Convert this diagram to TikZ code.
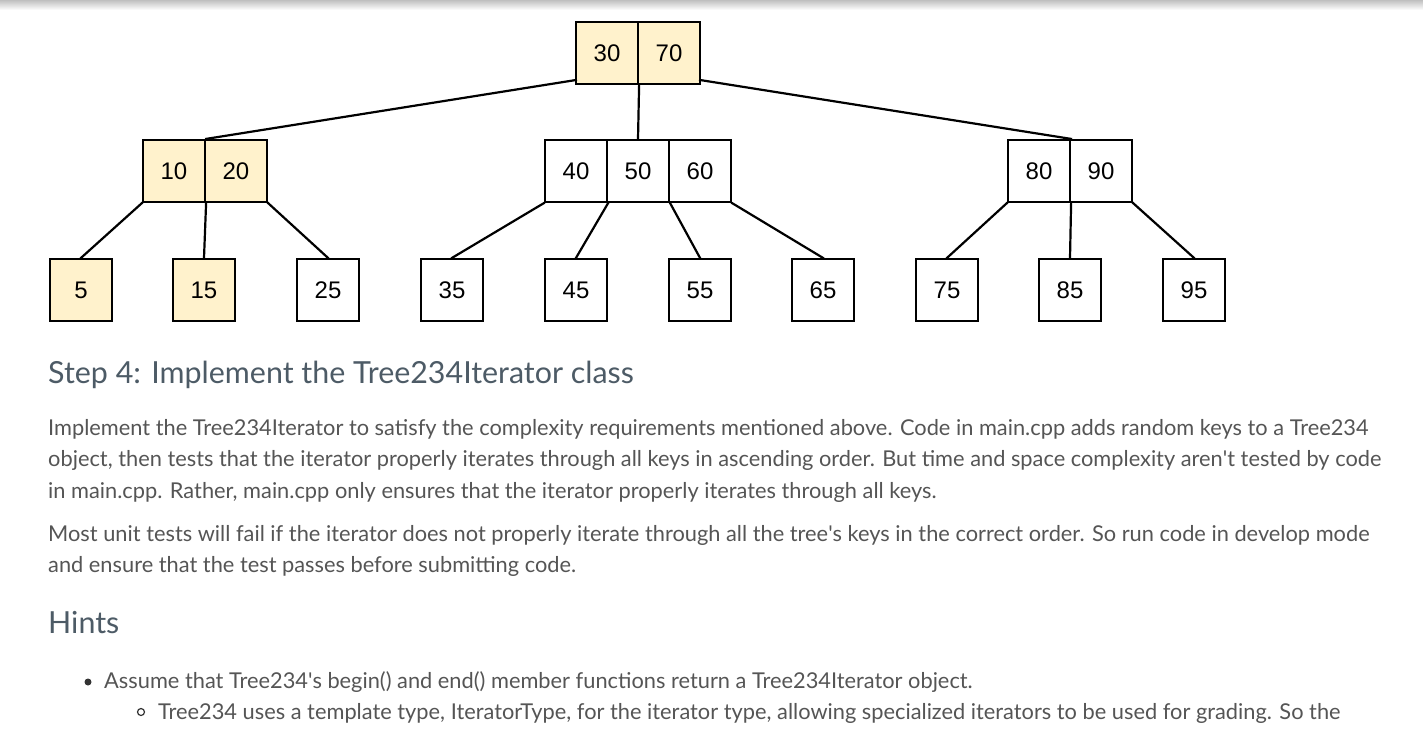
\documentclass[tikz,border=0pt]{standalone}
\usepackage{fontspec}
\setmainfont{Lato}
\newfontfamily\numfont{Liberation Sans}
\definecolor{keyfill}{HTML}{FFF2CC}
\definecolor{bodytxt}{HTML}{555555}
\definecolor{headtxt}{HTML}{4D5B66}
\begin{document}
\begin{tikzpicture}[x=1pt,y=-1pt,
  cell/.style={draw,line width=2.2pt,minimum width=62pt,minimum height=62pt,inner sep=0pt,font=\numfont\fontsize{24}{24}\selectfont},
  yel/.style={cell,fill=keyfill},
  wht/.style={cell,fill=white},
  edge/.style={line width=2.2pt,shorten <=-1pt,shorten >=-1pt},
  body/.style={anchor=base west,inner sep=0pt,text=bodytxt,font=\fontsize{21.8}{24}\selectfont},
  head/.style={anchor=base west,inner sep=0pt,text=headtxt,font=\fontsize{30.4}{32}\selectfont}]
\useasboundingbox (0,0) rectangle (1423,731);
\fill[white] (0,0) rectangle (1423,731);
\shade[top color=black!25,bottom color=white] (0,0) rectangle (1423,10);
% edges (behind boxes)
\coordinate (r1sw) at (576,80);
\coordinate (r2se) at (700,80);
% root
\node[yel] (r1) at (607,53) {30};
\node[yel] (r2) at (669,53) {70};
% level 1
\node[yel] (a1) at (174,171) {10};
\node[yel] (a2) at (236,171) {20};
\node[wht] (b1) at (576,171) {40};
\node[wht] (b2) at (638,171) {50};
\node[wht] (b3) at (700,171) {60};
\node[wht] (c1) at (1039,171) {80};
\node[wht] (c2) at (1101,171) {90};
% leaves
\node[yel] (l5) at (81,290) {5};
\node[yel] (l15) at (204,290) {15};
\node[wht] (l25) at (328,290) {25};
\node[wht] (l35) at (452,290) {35};
\node[wht] (l45) at (576,290) {45};
\node[wht] (l55) at (700,290) {55};
\node[wht] (l65) at (823,290) {65};
\node[wht] (l75) at (947,290) {75};
\node[wht] (l85) at (1070,290) {85};
\node[wht] (l95) at (1194,290) {95};
% edges
\draw[edge] (r1sw) -- (a1.north east);
\draw[edge] (r1.south east) -- (b2.north);
\draw[edge] (r2se) -- (c1.north east);
\draw[edge] (a1.south west) -- (l5.north);
\draw[edge] (a1.south east) -- (l15.north);
\draw[edge] (a2.south east) -- (l25.north);
\draw[edge] (b1.south west) -- (l35.north);
\draw[edge] (b1.south east) -- (l45.north);
\draw[edge] (b2.south east) -- (l55.north);
\draw[edge] (b3.south east) -- (l65.north);
\draw[edge] (c1.south west) -- (l75.north);
\draw[edge] (c1.south east) -- (l85.north);
\draw[edge] (c2.south east) -- (l95.north);
% text
\node[head] (h1) at (48,383) {Step 4: Implement the Tree234Iterator class};
\node[body] (p1) at (48,435) {Implement the Tree234Iterator to satisfy the complexity requirements mentioned above. Code in main.cpp adds random keys to a Tree234};
\node[body] (p2) at (48,466) {object, then tests that the iterator properly iterates through all keys in ascending order. But time and space complexity aren\textquotesingle t tested by code};
\node[body] (p3) at (48,498) {in main.cpp. Rather, main.cpp only ensures that the iterator properly iterates through all keys.};
\node[body] (p4) at (48,541) {Most unit tests will fail if the iterator does not properly iterate through all the tree\textquotesingle s keys in the correct order. So run code in develop mode};
\node[body] (p5) at (48,572) {and ensure that the test passes before submitting code.};
\node[head] (h2) at (48,633) {Hints};
\fill[black!80] (88,682) circle (3.5pt);
\node[body] (b1t) at (104,688) {Assume that Tree234\textquotesingle s begin() and end() member functions return a Tree234Iterator object.};
\draw[black!80,line width=1.2pt] (141,712) circle (3.5pt);
\node[body] (b2t) at (158,719) {Tree234 uses a template type, IteratorType, for the iterator type, allowing specialized iterators to be used for grading. So the};
\end{tikzpicture}
\end{document}
